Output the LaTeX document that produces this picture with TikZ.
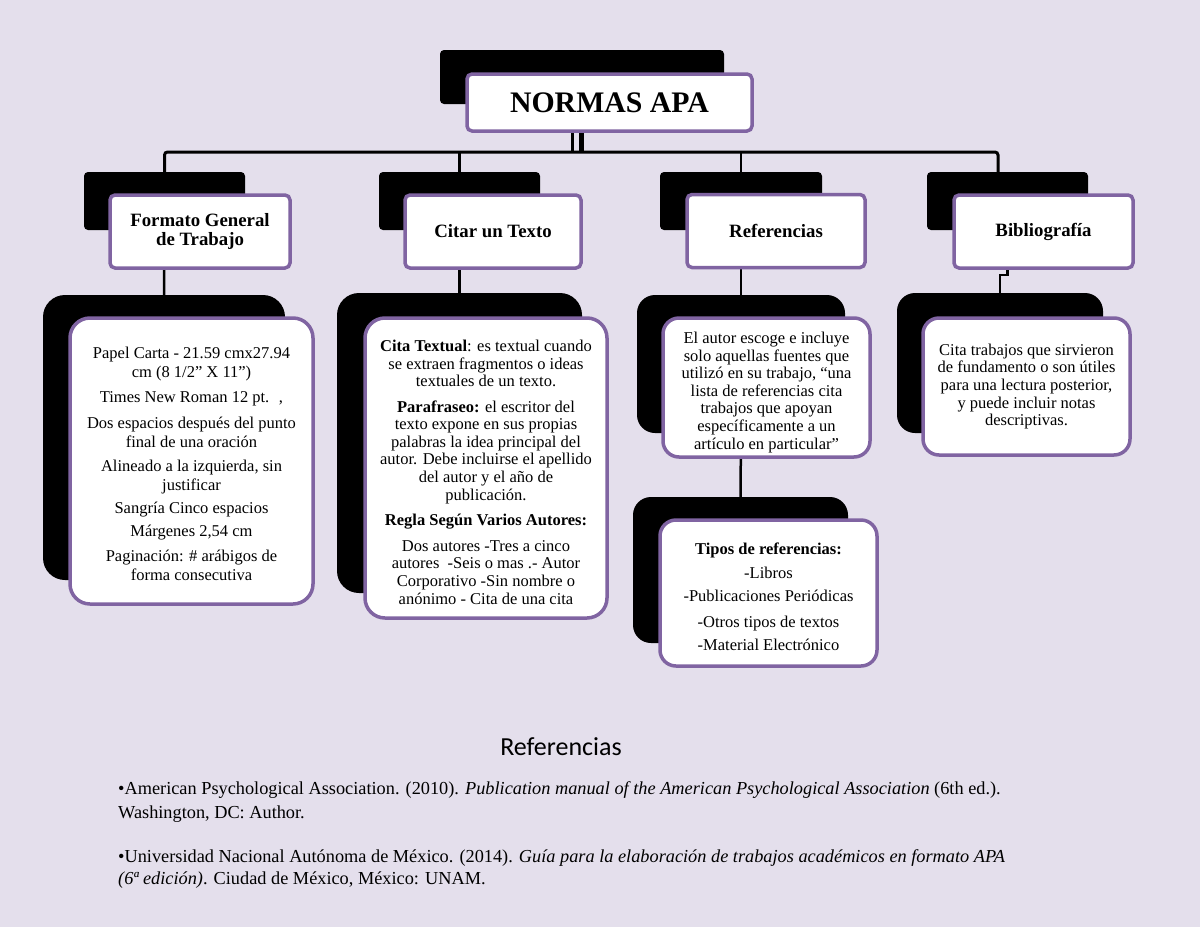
\documentclass[tikz,border=0pt]{standalone}
\usepackage{fontspec}
\setmainfont{Liberation Serif}
\newfontfamily\headfont{Carlito}
\usetikzlibrary{backgrounds}
\definecolor{bg}{RGB}{228,223,236}
\definecolor{pur}{RGB}{128,100,162}
\begin{document}
\begin{tikzpicture}[x=1pt,y=-1pt,
  shadowbox/.style={fill=black, draw=none, rounded corners=4pt, inner sep=0pt},
  smallbox/.style={fill=white, draw=pur, line width=3.5pt, rounded corners=5pt, inner sep=2pt, align=center, font=\fontsize{18.8}{19.5}\selectfont\bfseries},
  bigshadow/.style={fill=black, draw=none, rounded corners=22pt, inner sep=0pt},
  bigbox/.style={fill=white, draw=pur, line width=3.5pt, rounded corners=20pt, inner sep=2pt, align=center},
  conn/.style={draw=black, line width=2.5pt},
  reftext/.style={anchor=west, inner sep=0pt, font=\fontsize{18.3}{20}\selectfont}
]
\useasboundingbox (0,0) rectangle (1200,927);

% title
\node[shadowbox, minimum width=284pt, minimum height=54pt] (normsh) at (582,77) {};
\node[smallbox, minimum width=285pt, minimum height=57pt, font=\fontsize{29.8}{30}\selectfont\bfseries] (normas) at (609.5,102.5) {NORMAS APA};

% second level
\node[shadowbox, minimum width=161pt, minimum height=58pt] (fmtsh) at (164.5,201) {};
\node[smallbox, minimum width=180pt, minimum height=73pt] (fmt) at (200,231.5) {Formato General\\de Trabajo};
\node[shadowbox, minimum width=161pt, minimum height=58pt] (citsh) at (459.5,201) {};
\node[smallbox, minimum width=176pt, minimum height=73pt] (cit) at (493,231.5) {Citar un Texto};
\node[shadowbox, minimum width=162pt, minimum height=58pt] (refsh) at (741,201) {};
\node[smallbox, minimum width=178pt, minimum height=73pt] (ref) at (776,231) {Referencias};
\node[shadowbox, minimum width=161pt, minimum height=58pt] (bibsh) at (1007.5,201) {};
\node[smallbox, minimum width=179pt, minimum height=73pt] (bib) at (1043.5,231.5) {Bibliografía};

% third level
\node[bigshadow, minimum width=242pt, minimum height=285pt] (fmtbsh) at (164,437.5) {};
\node[bigbox, minimum width=243pt, minimum height=286pt, font=\fontsize{16.5}{19}\selectfont] (fmtb) at (191.5,461) {%
\rule{0pt}{18pt}Papel Carta - 21.59 cmx27.94\\cm (8 1/2” X 11”)\\[6pt]
Times New Roman 12 pt. \ ,\\[7pt]
Dos espacios después del punto\\final de una oración\\[5pt]
Alineado a la izquierda, sin\\justificar\\[4pt]
Sangría Cinco espacios\\[4pt]
Márgenes 2,54 cm\\[6pt]
Paginación: \# arábigos de\\forma consecutiva};

\node[bigshadow, minimum width=245pt, minimum height=300pt] (citbsh) at (459.5,443) {};
\node[bigbox, minimum width=242pt, minimum height=300pt, font=\fontsize{16.5}{17.6}\selectfont] (citb) at (486,468) {%
\rule{0pt}{20pt}\textbf{Cita Textual}: es textual cuando\\se extraen fragmentos o ideas\\textuales de un texto.\\[7.5pt]
\textbf{Parafraseo:} el escritor del\\texto expone en sus propias\\palabras la idea principal del\\autor. Debe incluirse el apellido\\del autor y el año de\\publicación.\\[7.5pt]
\textbf{Regla Según Varios Autores:}\\[8.5pt]
Dos autores -Tres a cinco\\autores \ -Seis o mas .- Autor\\Corporativo -Sin nombre o\\anónimo - Cita de una cita};

\node[bigshadow, minimum width=208pt, minimum height=138pt, rounded corners=18pt] (refbsh) at (741,364) {};
\node[bigbox, minimum width=207pt, minimum height=139pt, rounded corners=16pt, font=\fontsize{16.5}{17.6}\selectfont] (refb) at (766.5,387.5) {%
\rule{0pt}{21pt}El autor escoge e incluye\\solo aquellas fuentes que\\utilizó en su trabajo, “una\\lista de referencias cita\\trabajos que apoyan\\específicamente a un\\artículo en particular”};

\node[bigshadow, minimum width=215pt, minimum height=146pt, rounded corners=18pt] (tipsh) at (740.5,570) {};
\node[bigbox, minimum width=217pt, minimum height=146pt, rounded corners=16pt, font=\fontsize{16.5}{18}\selectfont] (tip) at (768.5,593) {%
\rule{0pt}{19pt}\textbf{Tipos de referencias:}\\[6pt]
-Libros\\[5pt]
-Publicaciones Periódicas\\[8pt]
-Otros tipos de textos\\[5pt]
-Material Electrónico};

\node[bigshadow, minimum width=206pt, minimum height=140pt, rounded corners=18pt] (bibbsh) at (1000,363) {};
\node[bigbox, minimum width=207pt, minimum height=137pt, rounded corners=16pt, font=\fontsize{16.5}{17.6}\selectfont] (bibb) at (1026.5,386.5) {%
Cita trabajos que sirvieron\\de fundamento o son útiles\\para una lectura posterior,\\y puede incluir notas\\descriptivas.};

% references
\node[font=\headfont\fontsize{26}{28}\selectfont, inner sep=0pt] (refhead) at (561,747) {Referencias};
\node[reftext] (r1a) at (118,790) {•American Psychological Association. (2010). \textit{Publication manual of the American Psychological Association} (6th ed.).};
\node[reftext] (r1b) at (118,814) {Washington, DC: Author.};
\node[reftext] (r2a) at (118,858) {•Universidad Nacional Autónoma de México. (2014). \textit{Guía para la elaboración de trabajos académicos en formato APA}};
\node[reftext] (r2b) at (118,880) {\textit{(6ª edición)}. Ciudad de México, México: UNAM.};

\coordinate (bary) at (0,152);
\coordinate (bibstep) at (0,275);

\begin{scope}[on background layer]
\fill[bg] (0,0) rectangle (1200,927);
\draw[conn, line width=3pt] ([xshift=-10pt]normsh.south) -- ([xshift=-10pt]normsh.south |- bary);
\draw[conn, line width=5pt] ([xshift=-1pt]normsh.south) -- ([xshift=-1pt]normsh.south |- bary);
\draw[conn, line width=3pt, rounded corners=3pt] (fmtsh.north) -- (fmtsh.north |- bary) -- ([xshift=-9.5pt]bibsh.north |- bary) -- ([xshift=-9.5pt]bibsh.north);
\draw[conn] (citsh.north) -- (citsh.north |- bary);
\draw[conn] (refsh.north) -- (refsh.north |- bary);
\draw[conn] (fmtsh.south) -- (fmtbsh.north);
\draw[conn] (citsh.south) -- (citbsh.north);
\draw[conn] (refsh.south) -- (refbsh.north);
\draw[conn] (refbsh.south) -- (tipsh.north);
\draw[conn] (bibsh.south) -- (bibsh.south |- bibstep) -| (bibbsh.north);
\end{scope}
\end{tikzpicture}
\end{document}
